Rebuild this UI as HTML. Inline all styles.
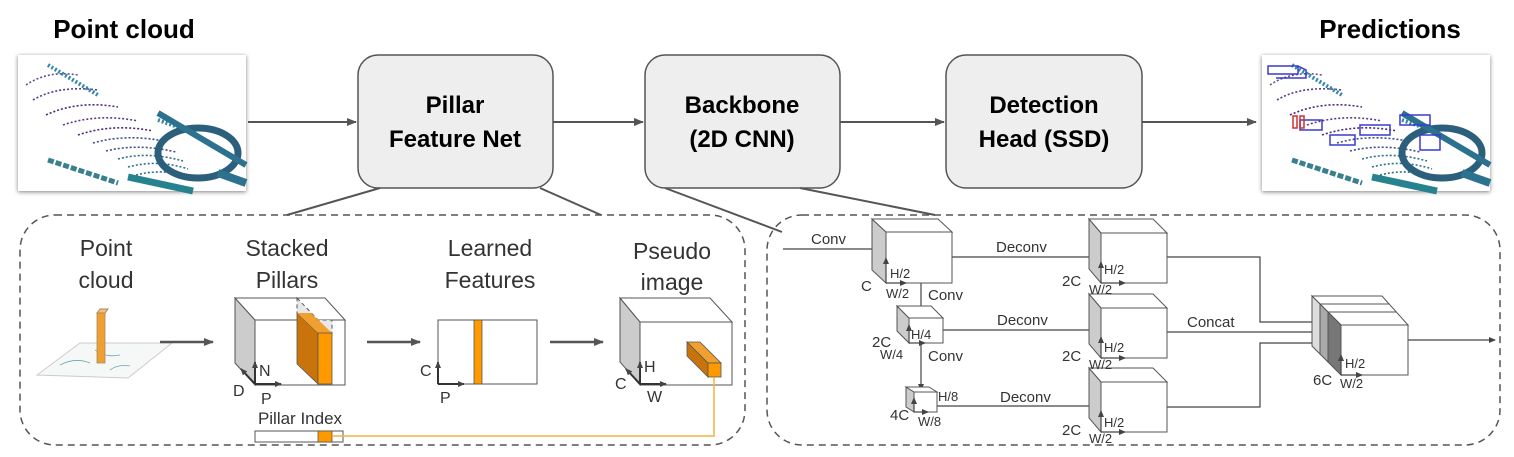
<!DOCTYPE html>
<html><head><meta charset="utf-8"><style>
html,body{margin:0;padding:0;background:#fff;}
svg{display:block;font-family:"Liberation Sans",sans-serif;}
</style></head><body>
<svg width="1514" height="457" viewBox="0 0 1514 457" xmlns="http://www.w3.org/2000/svg">
<defs>
<marker id="ah" markerWidth="10" markerHeight="8" refX="9" refY="4" orient="auto" markerUnits="userSpaceOnUse"><path d="M0,0 L10,4 L0,8 Z" fill="#555"/></marker>
<marker id="as" markerWidth="7" markerHeight="6" refX="6" refY="3" orient="auto" markerUnits="userSpaceOnUse"><path d="M0,0 L7,3 L0,6 Z" fill="#444"/></marker>
<filter id="sh" x="-10%" y="-10%" width="120%" height="120%"><feDropShadow dx="0" dy="1" stdDeviation="2" flood-color="#000" flood-opacity="0.5"/></filter>
<g id="pc">
<rect x="0" y="0" width="228" height="136" fill="#fff" filter="url(#sh)"/>
<g fill="none" stroke-width="1.6" stroke-dasharray="2 2">
<path d="M8,30 Q30,15 60,20" stroke="#6a4c93"/>
<path d="M15,45 Q40,30 80,35" stroke="#5b3a8a"/>
<path d="M28,60 Q60,45 100,52" stroke="#4b2a7a"/>
<path d="M45,70 Q80,58 120,66" stroke="#5b3a8a"/>
<path d="M60,80 Q95,68 135,76" stroke="#4b2a7a"/>
<path d="M75,88 Q110,78 150,87" stroke="#3d4f8a"/>
<path d="M88,96 Q120,88 158,97" stroke="#3d4f8a"/>
<path d="M100,104 Q130,96 165,106" stroke="#2e6f8e"/>
<path d="M110,112 Q140,104 170,114" stroke="#2e6f8e"/>
<path d="M118,120 Q145,113 172,122" stroke="#2e6f8e"/>
<path d="M30,10 L80,40" stroke="#38a" stroke-width="4"/>
<path d="M140,65 L160,72" stroke="#38a" stroke-width="4"/>
</g>
<path d="M30,105 L100,128" stroke="#3a7f8e" stroke-width="5" fill="none" stroke-dasharray="6 2"/>
<path d="M110,122 L175,136" stroke="#26828e" stroke-width="7" fill="none"/>
<ellipse cx="180" cy="98" rx="40" ry="25" fill="none" stroke="#2c5f7c" stroke-width="7"/>
<path d="M140,58 L228,110" stroke="#2c728e" stroke-width="6" fill="none"/>
<path d="M200,118 L228,128" stroke="#2c728e" stroke-width="8" fill="none"/>
</g>
</defs>

<!-- titles -->
<text x="124" y="38" font-size="26" font-weight="bold" text-anchor="middle">Point cloud</text>
<text x="1390" y="38" font-size="26" font-weight="bold" text-anchor="middle">Predictions</text>

<!-- images -->
<use href="#pc" x="18" y="55"/>
<use href="#pc" x="1262" y="55"/>
<g fill="none" stroke="#3a3ad0" stroke-width="1.5">
<path d="M1268,66 h30 v8 h-30z M1298,66 l8,4 v8 h-30"/>
<path d="M1300,120 h22 v10 h-22z M1360,125 h30 v10 h-30z M1400,115 h30 v10 h-30z M1420,135 h20 v15 h-20z M1330,135 h25 v10 h-25z"/>
</g>
<g fill="none" stroke="#d03030" stroke-width="1.5"><rect x="1293" y="116" width="4" height="12"/><rect x="1300" y="116" width="4" height="12"/></g>

<!-- top arrows -->
<g stroke="#555" stroke-width="2" fill="none">
<line x1="248" y1="122" x2="356" y2="122" marker-end="url(#ah)"/>
<line x1="553" y1="122" x2="643" y2="122" marker-end="url(#ah)"/>
<line x1="840" y1="122" x2="944" y2="122" marker-end="url(#ah)"/>
<line x1="1142" y1="122" x2="1256" y2="122" marker-end="url(#ah)"/>
</g>

<!-- boxes -->
<g fill="#eeeeee" stroke="#555" stroke-width="1.5">
<rect x="358" y="55" width="195" height="133" rx="20"/>
<rect x="645" y="55" width="195" height="133" rx="20"/>
<rect x="946" y="55" width="196" height="133" rx="20"/>
</g>
<g font-size="24" font-weight="bold" text-anchor="middle">
<text x="455" y="113">Pillar</text><text x="455" y="147">Feature Net</text>
<text x="742" y="113">Backbone</text><text x="742" y="147">(2D CNN)</text>
<text x="1044" y="113">Detection</text><text x="1044" y="147">Head (SSD)</text>
</g>

<!-- zoom lines -->
<g stroke="#555" stroke-width="2">
<line x1="380" y1="188" x2="287" y2="215"/>
<line x1="540" y1="188" x2="601" y2="215"/>
<line x1="665" y1="188" x2="782" y2="232"/>
<line x1="800" y1="188" x2="935" y2="215"/>
</g>

<!-- dashed panels -->
<g fill="none" stroke="#555" stroke-width="1.5" stroke-dasharray="7 5">
<rect x="20" y="215" width="725" height="230" rx="35"/>
<rect x="767" y="215" width="733" height="230" rx="35"/>
</g>

<!-- LEFT PANEL -->
<g font-size="23" fill="#333" text-anchor="middle">
<text x="106" y="256">Point</text><text x="106" y="288">cloud</text>
<text x="287" y="256">Stacked</text><text x="287" y="288">Pillars</text>
<text x="490" y="256">Learned</text><text x="490" y="288">Features</text>
<text x="672" y="259">Pseudo</text><text x="672" y="290">image</text>
</g>
<!-- plane -->
<polygon points="37,375 80,343 172,343 128,378" fill="#f6f8f8" stroke="#ccc"/>
<path d="M60,365 q15,-8 30,-2 M95,350 q10,8 25,5 M110,370 q8,-6 20,-4" stroke="#6aa" fill="none" stroke-width="0.8"/>
<polygon points="97,313 100,309 108,309 105,313" fill="#f5c070" stroke="#a86"/>
<rect x="97" y="313" width="8" height="50" fill="#f0a030" stroke="#a86" stroke-width="0.8"/>
<g stroke="#555" stroke-width="2.5" fill="none">
<line x1="160" y1="342" x2="213" y2="342" marker-end="url(#ah)"/>
<line x1="367" y1="342" x2="420" y2="342" marker-end="url(#ah)"/>
<line x1="550" y1="342" x2="603" y2="342" marker-end="url(#ah)"/>
</g>
<!-- stacked pillars cube -->
<polygon points="235,298 255,320 255,385 235,363" fill="#ccc" stroke="#555"/>
<polygon points="235,298 325,298 345,320 255,320" fill="#fff" stroke="#555"/>
<rect x="255" y="320" width="90" height="65" fill="#fff" stroke="#555"/>
<polygon points="297,298 318,320 332,320 332,333 318,333 297,313" fill="#e8e8e8" stroke="#555" stroke-dasharray="4 3"/>
<polygon points="297,313 318,333 318,384 297,364" fill="#c8740a" stroke="#555" stroke-width="0.8"/>
<polygon points="297,313 311,313 332,333 318,333" fill="#f0a030"/>
<rect x="318" y="333" width="14" height="51" fill="#ff9900" stroke="#555" stroke-width="0.8"/>
<g stroke="#333" stroke-width="2" fill="none">
<line x1="255" y1="384" x2="255" y2="362" marker-end="url(#as)"/>
<line x1="255" y1="384" x2="281" y2="384" marker-end="url(#as)"/>
<line x1="255" y1="384" x2="241" y2="369" marker-end="url(#as)"/>
</g>
<g font-size="16" fill="#333">
<text x="233" y="396">D</text><text x="259" y="376">N</text><text x="261" y="404">P</text>
</g>
<!-- learned features -->
<rect x="438" y="320" width="99" height="64" fill="#fff" stroke="#555"/>
<rect x="474" y="320" width="8" height="64" fill="#ff9900" stroke="#555" stroke-width="0.8"/>
<g stroke="#333" stroke-width="2" fill="none">
<line x1="438" y1="384" x2="438" y2="362" marker-end="url(#as)"/>
<line x1="438" y1="384" x2="464" y2="384" marker-end="url(#as)"/>
</g>
<g font-size="16" fill="#333"><text x="420" y="376">C</text><text x="440" y="403">P</text></g>
<!-- pseudo image cube -->
<polygon points="620,298 640,322 640,385 620,362" fill="#ccc" stroke="#555"/>
<polygon points="620,298 710,298 732,322 640,322" fill="#fff" stroke="#555"/>
<rect x="640" y="322" width="92" height="63" fill="#fff" stroke="#555"/>
<polygon points="687,342 708,363 708,377 687,356" fill="#c8740a" stroke="#555" stroke-width="0.8"/>
<polygon points="687,342 700,342 721,363 708,363" fill="#f0a030" stroke="#555" stroke-width="0.8"/>
<rect x="708" y="363" width="13" height="14" fill="#ff9900" stroke="#555" stroke-width="0.8"/>
<g stroke="#333" stroke-width="2" fill="none">
<line x1="640" y1="384" x2="640" y2="362" marker-end="url(#as)"/>
<line x1="640" y1="384" x2="666" y2="384" marker-end="url(#as)"/>
<line x1="640" y1="384" x2="626" y2="369" marker-end="url(#as)"/>
</g>
<g font-size="16" fill="#333"><text x="615" y="389">C</text><text x="644" y="372">H</text><text x="647" y="402">W</text></g>
<!-- pillar index -->
<text x="300" y="424" font-size="17" fill="#333" text-anchor="middle">Pillar Index</text>
<rect x="255" y="431" width="88" height="11" fill="#fff" stroke="#555"/>
<rect x="318" y="431" width="14" height="11" fill="#ff9900" stroke="#555" stroke-width="0.8"/>
<polyline points="332,436 714,436 714,377" fill="none" stroke="#f5b040" stroke-width="1.5"/>

<!-- RIGHT PANEL -->
<g stroke="#444" stroke-width="1.2" fill="none">
<line x1="783" y1="249" x2="885" y2="249" marker-end="url(#as)"/>
<line x1="952" y1="257" x2="1099" y2="257" marker-end="url(#as)"/>
<line x1="921" y1="283" x2="921" y2="317" marker-end="url(#as)"/>
<line x1="943" y1="330" x2="1099" y2="330" marker-end="url(#as)"/>
<line x1="921" y1="343" x2="921" y2="390" marker-end="url(#as)"/>
<line x1="937" y1="406" x2="1099" y2="406" marker-end="url(#as)"/>
<polyline points="1167,257 1260,257 1260,322 1318,322" marker-end="url(#as)"/>
<line x1="1167" y1="332" x2="1326" y2="332" marker-end="url(#as)"/>
<polyline points="1167,407 1260,407 1260,343 1338,343" marker-end="url(#as)"/>
<line x1="1408" y1="340" x2="1495" y2="340" marker-end="url(#as)"/>
</g>
<g font-size="15" fill="#333">
<text x="811" y="244">Conv</text>
<text x="996" y="252">Deconv</text>
<text x="928" y="300">Conv</text>
<text x="997" y="325">Deconv</text>
<text x="928" y="361">Conv</text>
<text x="1000" y="402">Deconv</text>
<text x="1187" y="327">Concat</text>
</g>
<!-- cube1 -->
<polygon points="872,219 886,232 886,283 872,270" fill="#ccc" stroke="#555"/>
<polygon points="872,219 938,219 952,232 886,232" fill="#fff" stroke="#555"/>
<rect x="886" y="232" width="66" height="51" fill="#fff" stroke="#555"/>
<!-- cube2 -->
<polygon points="897,306 909,318 909,343 897,331" fill="#ccc" stroke="#555"/>
<polygon points="897,306 931,306 943,318 909,318" fill="#fff" stroke="#555"/>
<rect x="909" y="318" width="34" height="25" fill="#fff" stroke="#555"/>
<!-- cube3 -->
<polygon points="906,387 914,392 914,412 906,407" fill="#ccc" stroke="#555"/>
<polygon points="906,387 929,387 937,392 914,392" fill="#fff" stroke="#555"/>
<rect x="914" y="392" width="23" height="20" fill="#fff" stroke="#555"/>
<!-- right cubes -->
<g id="rc">
<polygon points="1089,219 1101,233 1101,283 1089,269" fill="#ccc" stroke="#555"/>
<polygon points="1089,219 1153,219 1167,233 1101,233" fill="#fff" stroke="#555"/>
<rect x="1101" y="233" width="66" height="50" fill="#fff" stroke="#555"/>
</g>
<use href="#rc" y="75"/>
<use href="#rc" y="149"/>
<!-- small axes -->
<g stroke="#444" stroke-width="1.2" fill="none">
<line x1="886" y1="283" x2="886" y2="258" marker-end="url(#as)"/><line x1="886" y1="283" x2="906" y2="283" marker-end="url(#as)"/>
<line x1="909" y1="343" x2="909" y2="325" marker-end="url(#as)"/><line x1="909" y1="343" x2="925" y2="343" marker-end="url(#as)"/>
<line x1="914" y1="412" x2="914" y2="398" marker-end="url(#as)"/><line x1="914" y1="412" x2="928" y2="412" marker-end="url(#as)"/>
<line x1="1101" y1="283" x2="1101" y2="262" marker-end="url(#as)"/><line x1="1101" y1="283" x2="1125" y2="283" marker-end="url(#as)"/>
<line x1="1101" y1="358" x2="1101" y2="337" marker-end="url(#as)"/><line x1="1101" y1="358" x2="1125" y2="358" marker-end="url(#as)"/>
<line x1="1101" y1="432" x2="1101" y2="411" marker-end="url(#as)"/><line x1="1101" y1="432" x2="1125" y2="432" marker-end="url(#as)"/>
</g>
<g font-size="13" fill="#333">
<text x="861" y="291" font-size="15">C</text><text x="890" y="278">H/2</text><text x="886" y="298">W/2</text>
<text x="872" y="347" font-size="15">2C</text><text x="911" y="339">H/4</text><text x="880" y="359">W/4</text>
<text x="938" y="401">H/8</text><text x="890" y="420" font-size="15">4C</text><text x="918" y="426">W/8</text>
<text x="1062" y="286" font-size="15">2C</text><text x="1104" y="274">H/2</text><text x="1089" y="294">W/2</text>
<text x="1062" y="361" font-size="15">2C</text><text x="1104" y="352">H/2</text><text x="1089" y="369">W/2</text>
<text x="1062" y="435" font-size="15">2C</text><text x="1104" y="427">H/2</text><text x="1089" y="443">W/2</text>
</g>
<!-- concat stack -->
<polygon points="1312,296 1382,296 1408,325 1341,325" fill="#fff" stroke="#555"/>
<line x1="1320" y1="304" x2="1389" y2="304" stroke="#555"/>
<line x1="1328" y1="312" x2="1396" y2="312" stroke="#555"/>
<polygon points="1312,296 1320,304 1320,354 1312,346" fill="#ddd" stroke="#555"/>
<polygon points="1320,304 1328,312 1328,362 1320,354" fill="#aaa" stroke="#555"/>
<polygon points="1328,312 1341,325 1341,375 1328,362" fill="#777" stroke="#555"/>
<rect x="1341" y="325" width="67" height="50" fill="#fff" stroke="#555"/>
<g stroke="#444" stroke-width="1.2" fill="none">
<line x1="1341" y1="375" x2="1341" y2="355" marker-end="url(#as)"/><line x1="1341" y1="375" x2="1362" y2="375" marker-end="url(#as)"/>
</g>
<g font-size="13" fill="#333"><text x="1313" y="385" font-size="15">6C</text><text x="1345" y="368">H/2</text><text x="1340" y="388">W/2</text></g>
</svg>
</body></html>
